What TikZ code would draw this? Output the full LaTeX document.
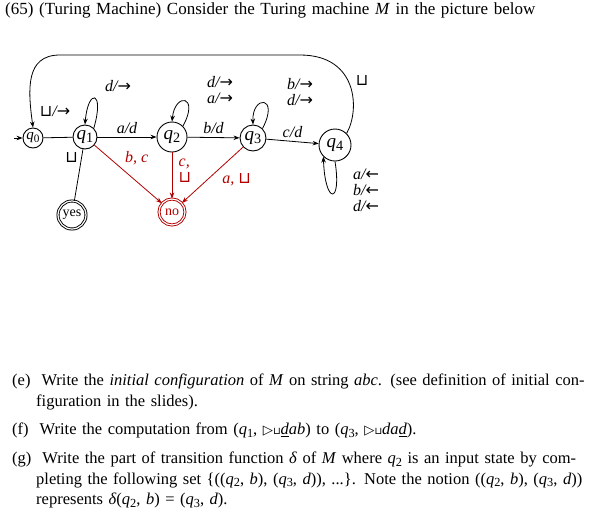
\documentclass[tikz,border=0pt]{standalone}
\usepackage{fontspec}
\setmainfont{Liberation Serif}
\newfontfamily\djv{DejaVu Sans}
\usetikzlibrary{arrows.meta}
\newcommand{\qq}[1]{\textit{q}\raisebox{-0.35ex}{\scalebox{0.75}{#1}}}
\newcommand{\cupsq}{{\djv ⊔}}
\newcommand{\ra}{{\djv →}}
\newcommand{\la}{{\djv ←}}
\newcommand{\tri}{{\djv\scalebox{0.8}{▷}}}
\newcommand{\blnk}{\raisebox{0.1ex}{\scalebox{0.6}{\djv ⊔}}}
\begin{document}
\begin{tikzpicture}[x=1pt,y=-1pt,
  st/.style={draw,circle,inner sep=0.5pt,minimum size=24pt,font=\fontsize{19}{19}\selectfont,line width=0.9pt},
  acc/.style={st,double,double distance=1.2pt,font=\fontsize{14}{14}\selectfont},
  ed/.style={-{Stealth[length=6pt]},line width=0.8pt},
  red/.style={ed,color=red!70!black},
  lb/.style={font=\fontsize{16}{16}\selectfont\itshape},
  txt/.style={anchor=north west,align=left,text width=600pt,font=\fontsize{16.5}{20.5}\selectfont,inner sep=0pt}]
\useasboundingbox (0,0) rectangle (610,520);
\node[txt,font=\fontsize{17}{20}\selectfont] (title) at (5,3) {(65) (Turing Machine) Consider the Turing machine \textit{M} in the picture below};
\node[st,minimum size=20pt,font=\fontsize{15}{15}\selectfont] (q0) at (33,138) {\qq{0}};
\node[st] (q1) at (85,137) {\qq{1}};
\node[st,minimum size=30pt] (q2) at (172,137) {\qq{2}};
\node[st,minimum size=26pt] (q3) at (253,138) {\qq{3}};
\node[st,minimum size=32pt] (q4) at (335,145) {\qq{4}};
\node[acc,minimum size=28pt] (yes) at (72,215) {yes};
\node[acc,minimum size=26pt,draw=red!70!black,text=red!70!black] (no) at (172,212) {no};
\coordinate (start) at (14,138);
\draw[ed] (start) -- (q0);
\draw[line width=0.8pt] (q0) -- (q1);
\draw[ed] (q1) -- node[above,lb] {a/d} (q2);
\draw[ed] (q2) -- node[above,lb] {b/d} (q3);
\draw[ed] (q3) -- node[above,lb] {c/d} (q4);
\draw[line width=0.8pt] (q1) -- node[left,lb,pos=0.15] {\cupsq} (yes);
\draw[red] (q1) -- node[above right,lb,pos=0.4,text=red!70!black] {b, c} (no);
\draw[red] (q2) -- node[right,lb,align=left,pos=0.4,xshift=3pt,text=red!70!black] {c,\\\cupsq} (no);
\draw[red] (q3) -- node[below right,lb,pos=0.4,text=red!70!black] {a, \cupsq} (no);
\draw[ed] (q4.north east) .. controls (360,110) and (358,55) .. (300,55) -- (60,55) .. controls (25,55) and (28,90) .. (q0.north);
\node[lb] (l0) at (55,111) {\cupsq/\ra};
\node[lb] (sq) at (362,80) {\cupsq};
\draw[ed] (q1.north east) .. controls (105,90) and (88,88) .. (q1.north);
\node[lb] (l1) at (118,86) {d/\ra};
\draw[ed] (q2.north east) .. controls (200,95) and (175,92) .. (q2.north);
\node[lb,align=left] (l2) at (220,90) {d/\ra\\a/\ra};
\draw[ed] (q3.north east) .. controls (280,95) and (252,95) .. (q3.north);
\node[lb,align=left] (l3) at (300,92) {b/\ra\\d/\ra};
\draw[ed] (q4.south) .. controls (342,205) and (325,205) .. (q4.south west);
\node[lb,align=left] (l4) at (366,190) {a/\la\\b/\la\\d/\la};
\node[txt] (e) at (12,374) {(e)~~Write the \textit{initial configuration} of \textit{M} on string \textit{abc}. (see definition of initial con-\\\hspace*{24pt}figuration in the slides).};
\node[txt] (f) at (12,423) {(f)~~Write the computation from (\qq{1}, \tri\blnk\textit{\underline{d}ab}) to (\qq{3}, \tri\blnk\textit{da\underline{d}}).};
\node[txt] (g) at (12,452) {(g)~~Write the part of transition function \textit{δ} of \textit{M} where \qq{2} is an input state by com-\\\hspace*{24pt}pleting the following set \{((\qq{2}, \textit{b}), (\qq{3}, \textit{d})), ...\}. Note the notion ((\qq{2}, \textit{b}), (\qq{3}, \textit{d}))\\\hspace*{24pt}represents \textit{δ}(\qq{2}, \textit{b}) = (\qq{3}, \textit{d}).};
\end{tikzpicture}
\end{document}
